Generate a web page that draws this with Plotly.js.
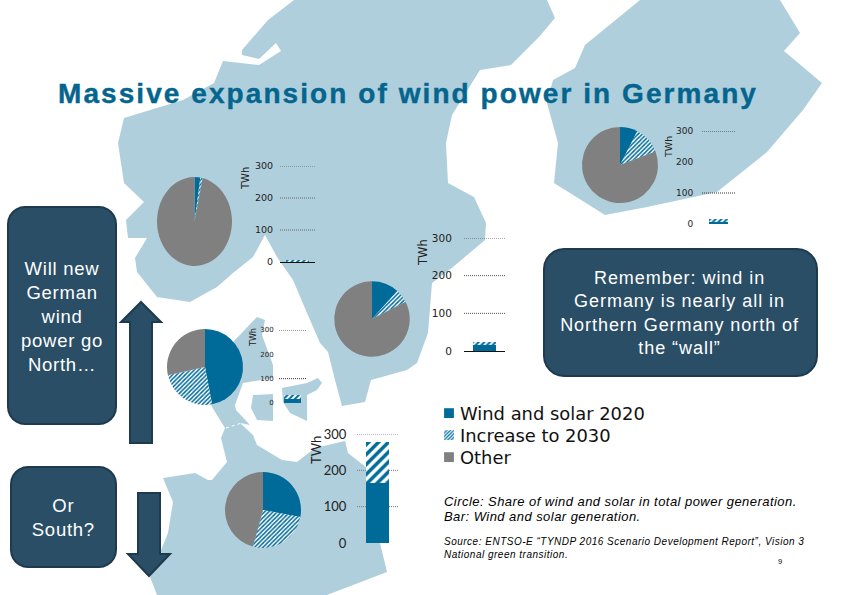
<!DOCTYPE html>
<html><head><meta charset="utf-8">
<script src="https://cdn.plot.ly/plotly-3.0.1.min.js"></script>
<style>html,body{margin:0;padding:0;background:#fff}#chart{width:842px;height:595px}
.gtitle{letter-spacing:2.07px;stroke:#04658f;stroke-width:.4px}
.annotation[data-index="0"] text,.annotation[data-index="1"] text{letter-spacing:.75px}
.annotation[data-index="2"] text{letter-spacing:.95px}
.annotation[data-index="3"] text,.annotation[data-index="4"] text{letter-spacing:.45px}
.annotation[data-index="5"] text,.annotation[data-index="6"] text{letter-spacing:.5px}
</style></head>
<body><div id="chart"></div>
<script>
// ---- data ----
const regions = ['Norway','Finland','Sweden','Denmark','Germany'];
const sliceLabels = ['Wind and solar 2020','Increase to 2030','Other'];
const windShare  = [2.5, 7.5, 11.7, 47, 28];
const incShare   = [1, 11.7, 5.7, 24.5, 26.3];
const otherShare = [96.5, 80.8, 82.6, 28.5, 45.7];
const windTWh = [3, 8, 17, 18, 164];
const incTWh  = [1, 8, 7, 14, 115];
const tickValues = [0,100,200,300];
const gridValues = [[100,200,300],[100,300],[100,200,300],[100,300],[100,200,300]];
const colors = {wind:'#006b99', other:'#808080', map:'#b0cfdc', box:'#2a4e66', boxLine:'#1d3a4e', title:'#04658f'};

// ---- layout helpers (page pixels to paper fractions) ----
const W=842,H=595;
const px=x=>x/W, py=y=>1-y/H;
const poly=(pts,fill,line)=>({type:'path',xref:'paper',yref:'paper',layer:'below',
  path:'M'+pts.map(p=>px(p[0]).toFixed(5)+','+py(p[1]).toFixed(5)).join('L')+'Z',
  fillcolor:fill,line:line?{color:line,width:2}:{width:0}});
const rrect=(x0,y0,x1,y1,r)=>{const n=6,pts=[];
  [[x1-r,y0+r,-90],[x1-r,y1-r,0],[x0+r,y1-r,90],[x0+r,y0+r,180]].forEach(c=>{
    for(let i=0;i<=n;i++){const a=(c[2]+i*90/n)*Math.PI/180;pts.push([c[0]+r*Math.cos(a),c[1]+r*Math.sin(a)]);}});
  return poly(pts,colors.box,colors.boxLine);};
const note=(text,x,y,size,o)=>Object.assign({text,xref:'paper',yref:'paper',x:px(x),y:py(y),showarrow:false,
  font:{family:'Liberation Sans, Arial, sans-serif',size,color:'#000'},xanchor:'center',yanchor:'middle'},o||{});
const whiteFont=size=>({font:{family:'Liberation Sans, Arial, sans-serif',size,color:'#fff'}});

// ---- background map ----
const mapShapes=[
 [[294,0],[268,20],[242,50],[242,55],[259,59],[276,43],[281,51],[259,65],[223,61],[214,83],[183,100],[124,118],[118,143],[124,183],[144,202],[126,220],[128,238],[147,238],[135,258],[137,272],[157,297],[190,302],[217,287],[233,273],[253,257],[265,235],[277,257],[293,280],[307,313],[320,343],[328,352],[335,380],[342,406],[365,402],[371,380],[407,370],[417,363],[428,333],[432,283],[453,267],[485,240],[486,223],[474,197],[448,183],[446,143],[452,115],[480,70],[511,65],[539,37],[555,18],[547,0]],
 [[640,0],[585,45],[575,68],[553,80],[547,103],[558,143],[554,183],[605,215],[647,207],[717,192],[767,152],[803,110],[822,83],[784,51],[800,33],[780,0]],
 [[235,340],[257,317],[265,320],[262,335],[273,365],[273,378],[243,383],[235,405],[236,410],[250,425],[240,423],[253,435],[257,445],[282,460],[297,462],[315,448],[345,441],[348,453],[367,468],[375,490],[380,543],[387,572],[327,595],[157,595],[150,577],[168,533],[173,502],[163,478],[195,473],[208,480],[212,480],[227,462],[221,438],[225,428],[212,407],[205,380]],
 [[253,395],[273,394],[273,421],[257,420],[251,408]],
 [[282,388],[307,383],[318,378],[322,383],[317,390],[307,395],[307,421],[290,413],[283,402]]
].map(p=>poly(p,colors.map));
const denmarkLink={type:'line',xref:'paper',yref:'paper',layer:'below',x0:px(226),y0:py(428),x1:px(240),y1:py(423.5),line:{color:'#fff',width:1,dash:'dot'}};

// ---- callout boxes and arrows ----
const calloutShapes=[
 rrect(8,207,116,424,17), rrect(11,467,116,567,17), rrect(544,249,817,376,20),
 poly([[141,302],[161,322],[152,322],[152,443],[130,443],[130,322],[121,322]],colors.box,colors.boxLine),
 poly([[138,493],[160,493],[160,554],[170,554],[149,576],[128,554],[138,554]],colors.box,colors.boxLine)
];

// ---- chart frames (pixel geometry only) ----
const frames=[
 {x0:280,x1:315,y0:262,y300:166,font:9.5,ff:'DejaVu Sans',gap:4,tx:245,ty:179,ts:10,bar:0.63,base:true,grid:'#666',pie:[194.5,221.5,89]},
 {x0:702,x1:735,y0:224,y300:131,font:9,ff:'DejaVu Sans',gap:6,tx:668,ty:147,ts:9.5,bar:0.58,base:false,grid:'#333',pie:[620,165,76]},
 {x0:464,x1:505,y0:351,y300:238,font:10.5,ff:'DejaVu Sans',gap:9,tx:423,ty:253,ts:11.5,bar:0.56,base:true,grid:'#555',pie:[372,319,75.5]},
 {x0:279,x1:306,y0:403,y300:330,font:7,ff:'DejaVu Sans',gap:3,tx:253,ty:338,ts:8,bar:0.6,base:false,grid:'#333',pie:[205,367,76]},
 {x0:357,x1:398,y0:543,y300:434,font:13,ff:'Lato',gap:7,tx:316,ty:450,ts:13,bar:0.54,base:false,grid:'#777',pie:[263,510,76]}
];

const traces=[],layout={
 width:W,height:H,margin:{l:0,r:0,t:0,b:0,pad:0},paper_bgcolor:'#fff',plot_bgcolor:'rgba(0,0,0,0)',
 barmode:'stack',showlegend:true,
 title:{text:'Massive expansion of wind power in Germany',x:px(58),xref:'paper',xanchor:'left',y:py(93),yref:'paper',yanchor:'middle',
   font:{family:'Liberation Sans, Arial, sans-serif',size:28,color:colors.title,weight:700}},
 legend:{x:px(420),y:py(395),xanchor:'left',yanchor:'top',bgcolor:'rgba(0,0,0,0)',traceorder:'normal',
   font:{family:'DejaVu Sans, Verdana, sans-serif',size:17.9,color:'#111'},itemwidth:30,itemclick:false,tracegroupgap:0},
 shapes:[...mapShapes,denmarkLink,...calloutShapes],
 annotations:[
  note('Will new<br>German<br>wind<br>power go<br>North…',62,316,18.5,whiteFont(18.5)),
  note('Or<br>South?',63,517,18.5,whiteFont(18.5)),
  note('Remember: wind in<br>Germany is nearly all in<br>Northern Germany north of<br>the “wall”',680,313,18,whiteFont(18)),
  note('<i>Circle: Share of wind and solar in total power generation.</i>',442,501,13,{xanchor:'left',align:'left'}),
  note('<i>Bar: Wind and solar generation.</i>',442,516,13,{xanchor:'left',align:'left'}),
  note('<i>Source: ENTSO-E “TYNDP 2016 Scenario Development Report”, Vision 3</i>',442,541,10,{xanchor:'left',align:'left'}),
  note('<i>National green transition.</i>',442,554,10,{xanchor:'left',align:'left'}),
  note('9',780,561,7.5)
 ]
};

frames.forEach((f,i)=>{
  const n=i+1, xa='xaxis'+n, ya='yaxis'+n, xr='x'+n, yr='y'+n;
  layout[xa]={domain:[px(f.x0),px(f.x1)],range:[0,1],anchor:yr,showgrid:false,zeroline:false,showticklabels:false,ticks:'',
    showline:f.base,linecolor:'#111',linewidth:1,fixedrange:true};
  layout[ya]={domain:[py(f.y0),py(f.y300)],range:[0,300],anchor:xr,tickvals:tickValues,ticks:'outside',ticklen:f.gap,tickcolor:'rgba(0,0,0,0)',
    showgrid:false,zeroline:false,showline:false,fixedrange:true,tickfont:{family:f.ff,size:f.font,color:'#222'}};
  gridValues[i].forEach(v=>layout.shapes.push({type:'line',xref:xr+' domain',yref:yr,layer:'below',x0:0,x1:1,y0:v,y1:v,line:{color:f.grid,width:1,dash:'1px,1px'}}));
  layout.annotations.push(note('TWh',f.tx,f.ty,f.ts,{textangle:-90,font:{family:f.ff,size:f.ts,color:'#222'}}));
  const pitch=i===4?7:4;
  traces.push({type:'bar',name:sliceLabels[0],x:[0.5],y:[windTWh[i]],width:[f.bar],xaxis:xr,yaxis:yr,showlegend:false,marker:{color:colors.wind,line:{width:0}},hoverinfo:'y'});
  traces.push({type:'bar',name:sliceLabels[1],x:[0.5],y:[incTWh[i]],width:[f.bar],xaxis:xr,yaxis:yr,showlegend:false,
    marker:{color:'#fff',line:{width:0},pattern:{shape:'/',fgcolor:colors.wind,bgcolor:'#ffffff',size:pitch,solidity:0.5}},hoverinfo:'y'});
  const [cx,cy,d]=f.pie;
  traces.push({type:'pie',name:regions[i],labels:sliceLabels,values:[windShare[i],incShare[i],otherShare[i]],sort:false,direction:'clockwise',rotation:0,
    domain:{x:[px(cx-d/2),px(cx+d/2)],y:[py(cy+d/2),py(cy-d/2)]},textinfo:'none',showlegend:i===0,
    marker:{colors:[colors.wind,'#ffffff',colors.other],line:{width:0},pattern:{shape:['','/',''],fgcolor:colors.wind,bgcolor:'#ffffff',size:3,solidity:0.5}}});
});

Plotly.newPlot('chart',traces,layout,{displayModeBar:false,responsive:false}).then(()=>{
  // the northern pie is drawn as an upright ellipse in the reference
  const t=document.querySelectorAll('.pielayer .trace')[0];
  if(t){const c=frames[0].pie; t.setAttribute('transform',`translate(${c[0]},${c[1]}) scale(${75/89},1) translate(${-c[0]},${-c[1]})`);}
  // reference legend: tighter rows, smaller swatch closer to its label
  const rows=[...document.querySelectorAll('.legend .traces')];
  const m=/translate\(([-\d.]+),\s*([-\d.]+)\)/.exec(rows[0].getAttribute('transform'));
  rows.forEach((r,i)=>{
    r.setAttribute('transform',`translate(${m[1]},${+m[2]+22*i})`);
    const s=r.querySelector('.legendsymbols');
    if(s) s.setAttribute('transform','translate(9,0)');
    const p=r.querySelector('.legendpie');
    if(p) p.setAttribute('transform',(p.getAttribute('transform')||'')+' scale(0.82)');
  });
});
</script></body></html>
